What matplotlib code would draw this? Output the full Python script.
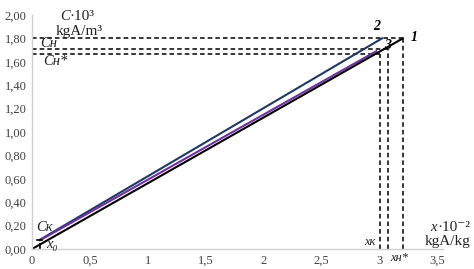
import matplotlib
matplotlib.use("Agg")
import matplotlib.pyplot as plt
from matplotlib.ticker import FuncFormatter

# data
x_line1 = [0.0, 3.2]
c_line1 = [0.0, 1.8]
x_line2 = [0.07, 3.02]
c_line2 = [0.08, 1.8]
x_line3 = [0.07, 2.97]
c_line3 = [0.075, 1.69]

x0 = 0.07
c_k = 0.075
x_k, x_mid, x_n_star = 3.0, 3.07, 3.2
c_top, c_n, c_n_star = 1.8, 1.71, 1.67

x_ticks = [0, 0.5, 1, 1.5, 2, 2.5, 3, 3.5]
y_ticks = [0, 0.2, 0.4, 0.6, 0.8, 1.0, 1.2, 1.4, 1.6, 1.8, 2.0]

serif = ["Liberation Serif", "DejaVu Serif"]
fig = plt.figure(figsize=(4.74, 2.69), dpi=100)
ax = fig.add_axes([0.0675, 0.0743, 0.868, 0.870])

# reference dashes
dash = dict(color="black", lw=1.1, ls=(0, (3, 2)))
ax.plot([0, x_n_star], [c_top, c_top], **dash)
ax.plot([0, x_mid], [c_n, c_n], **dash)
ax.plot([0, x_k], [c_n_star, c_n_star], **dash)
ax.plot([x_n_star, x_n_star], [0, c_top], **dash)
ax.plot([x_mid, x_mid], [0, c_n], **dash)
ax.plot([x_k, x_k], [0, c_n_star], **dash)

ax.plot(x_line2, c_line2, color="#1f3864", lw=1.5)
ax.plot(x_line3, c_line3, color="#7030a0", lw=1.5)
ax.plot(x_line1, c_line1, color="black", lw=1.5)

# small marks at the start
ax.plot([x0, x0], [0, 0.04], color="black", lw=1.2)
ax.plot([0.04, 0.09], [c_k, c_k], color="black", lw=1.2)

ax.set_xlim(0, 3.55)
ax.set_ylim(0, 2.0)
ax.set_xticks(x_ticks)
ax.set_yticks(y_ticks)
ax.xaxis.set_major_formatter(FuncFormatter(lambda v, p: f"{v:g}".replace(".", ",")))
ax.yaxis.set_major_formatter(FuncFormatter(lambda v, p: f"{v:.2f}".replace(".", ",")))
ax.tick_params(length=0, labelsize=9, colors="#404040", pad=4)
for lab in ax.get_xticklabels() + ax.get_yticklabels():
    lab.set_family(serif)

for s in ["top", "right"]:
    ax.spines[s].set_visible(False)
for s in ["left", "bottom"]:
    ax.spines[s].set_color("#d0d0d0")
    ax.spines[s].set_linewidth(1.0)

it = dict(family=serif, style="italic", fontsize=10.5, color="#222222")
up = dict(family=serif, fontsize=11, color="#222222")
ax.text(0.24, 1.985, "C", ha="left", va="center", **it)
ax.text(0.32, 1.985, "·10³", ha="left", va="center", **up)
ax.text(0.20, 1.86, "kgA/m³", ha="left", va="center", **up)
ax.text(0.07, 1.755, "Cн", ha="left", va="center", **it)
ax.text(0.10, 1.60, "Cн*", ha="left", va="center", **it)
ax.text(0.04, 0.18, "Cк", ha="left", va="center", **it)
ax.text(0.12, 0.04, "x₀", ha="left", va="center", **it)
ax.text(2.96, 0.06, "xк", ha="right", va="center", fontsize=9, family=serif,
        style="italic", color="#222222")
ax.text(3.17, -0.078, "xн*", ha="center", va="center", fontsize=9, family=serif,
        style="italic", color="#222222", clip_on=False)
ax.text(3.49, 0.18, "x", ha="right", va="center", clip_on=False, **it)
ax.text(3.78, 0.18, "·10⁻²", ha="right", va="center", clip_on=False, **up)
ax.text(3.78, 0.06, "kgA/kg", ha="right", va="center", clip_on=False, **up)

bi = dict(family=serif, style="italic", weight="bold", fontsize=10, color="black")
ax.text(3.27, 1.81, "1", ha="left", va="center", **bi)
ax.text(2.97, 1.90, "2", ha="center", va="center", **bi)
ax.text(3.07, 1.74, "3", ha="center", va="center", **bi)

fig.savefig("out.png", dpi=100)
